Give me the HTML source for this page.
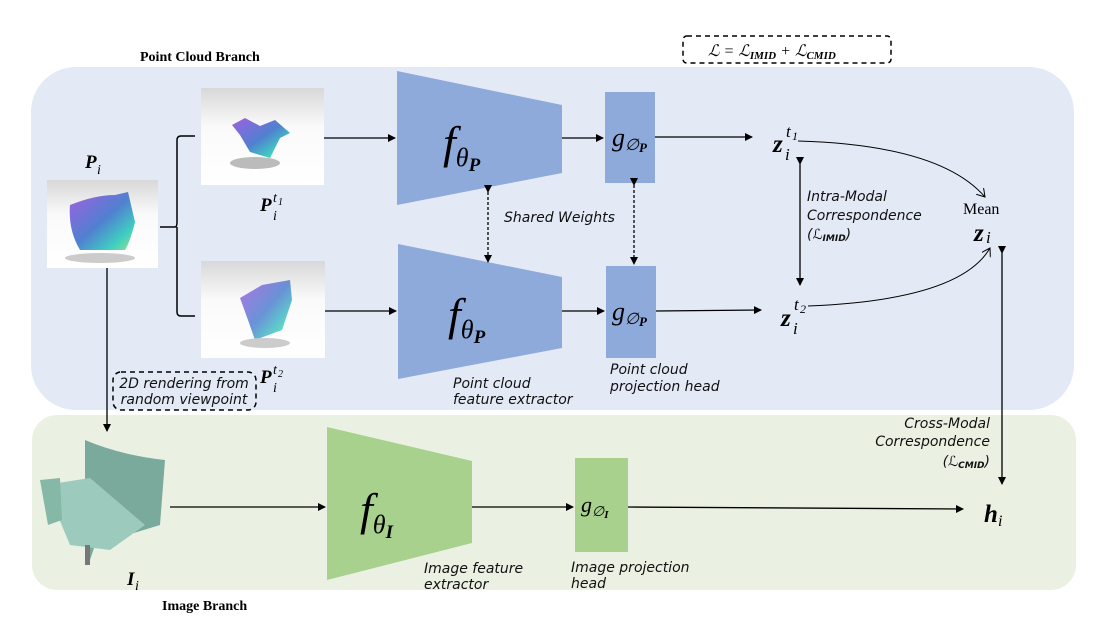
<!DOCTYPE html>
<html><head><meta charset="utf-8"><style>
html,body{margin:0;padding:0;background:#fff;}
svg{display:block}
.it{font-family:"DejaVu Sans","Liberation Sans",sans-serif;font-style:italic;font-size:14px;fill:#111}
.ser{font-family:"Liberation Serif",serif;}
.m{font-family:"Liberation Serif",serif;font-style:italic;fill:#000}
</style></head><body>
<svg width="1103" height="625" viewBox="0 0 1103 625" xmlns="http://www.w3.org/2000/svg">
<defs>
<marker id="a" markerWidth="8" markerHeight="8" refX="7" refY="4" orient="auto" markerUnits="userSpaceOnUse"><path d="M0,0 L8,4 L0,8 Z" fill="#000"/></marker>
<marker id="o" markerWidth="10" markerHeight="10" refX="8" refY="5" orient="auto" markerUnits="userSpaceOnUse"><path d="M0,0 L8,5 L0,10" fill="none" stroke="#000" stroke-width="1"/></marker>
<linearGradient id="bg" x1="0" y1="0" x2="0" y2="1"><stop offset="0" stop-color="#d8d8d8"/><stop offset="0.4" stop-color="#fafafa"/><stop offset="1" stop-color="#fff"/></linearGradient>
<linearGradient id="pc" x1="0" y1="0" x2="1" y2="1"><stop offset="0" stop-color="#a060e0"/><stop offset="0.5" stop-color="#5080d0"/><stop offset="0.8" stop-color="#40d0c0"/><stop offset="1" stop-color="#a0e080"/></linearGradient>
</defs>
<rect x="31" y="67" width="1043" height="343" rx="45" fill="#e3e9f5"/>
<rect x="32" y="415" width="1044" height="175" rx="25" fill="#ebf1e2"/>
<text x="140" y="61" class="ser" font-weight="bold" font-size="14">Point Cloud Branch</text>
<text x="162" y="610" class="ser" font-weight="bold" font-size="14">Image Branch</text>
<rect x="683" y="36" width="208" height="27" rx="4" fill="none" stroke="#000" stroke-width="1.5" stroke-dasharray="5,4"/>
<text x="708" y="56" class="ser" font-style="italic" font-size="16">ℒ = ℒ<tspan font-size="11" font-weight="bold" dy="3">IMID</tspan><tspan dy="-3"> + ℒ</tspan><tspan font-size="11" font-weight="bold" dy="3">CMID</tspan></text>
<rect x="47" y="180" width="111" height="88" fill="url(#bg)"/>
<path d="M70,205 Q95,195 115,195 L128,192 L135,222 Q130,242 125,250 L80,250 Q68,230 70,205Z" fill="url(#pc)"/>
<ellipse cx="100" cy="258" rx="35" ry="5" fill="#ccc"/>
<rect x="201" y="88" width="123" height="97" fill="url(#bg)"/>
<path d="M232,125 L245,118 L260,126 L275,120 L290,133 L280,138 L270,158 L250,152 L240,135 Z" fill="url(#pc)"/>
<ellipse cx="255" cy="163" rx="25" ry="6" fill="#bbb"/>
<rect x="201" y="261" width="124" height="97" fill="url(#bg)"/>
<path d="M240,298 L262,285 L290,280 L292,300 L282,330 L255,340 L248,320 Z" fill="url(#pc)" opacity="0.85"/>
<ellipse cx="265" cy="343" rx="25" ry="5" fill="#ccc"/>
<path d="M85,440 Q120,455 165,460 L160,525 L95,545 L90,560 L85,490 Z" fill="#7aaa9c"/>
<path d="M45,485 L90,478 L145,525 L110,550 L70,545 Z" fill="#9ccbbd"/>
<path d="M40,480 L60,478 L62,520 L48,525 Z" fill="#86b8a8"/>
<rect x="85" y="545" width="5" height="20" fill="#777"/>
<text x="85" y="168" class="m" font-weight="bold" font-size="19">P</text><text x="97" y="174" class="m" font-size="14">i</text>
<text x="260" y="211" class="m" font-weight="bold" font-size="19">P</text><text x="273" y="220" class="m" font-size="14">i</text><text x="273" y="202" class="m" font-size="14">t</text><text x="278" y="205" class="m" font-size="10">1</text>
<text x="260" y="383" class="m" font-weight="bold" font-size="19">P</text><text x="273" y="392" class="m" font-size="14">i</text><text x="273" y="374" class="m" font-size="14">t</text><text x="278" y="377" class="m" font-size="10">2</text>
<text x="127" y="585" class="m" font-weight="bold" font-size="19">I</text><text x="135" y="590" class="m" font-size="14">i</text>
<text x="773" y="152" class="m" font-weight="bold" font-size="25">z</text><text x="785" y="160" class="m" font-size="17">i</text><text x="786" y="137" class="m" font-size="17">t</text><text x="792" y="140" class="m" font-size="12">1</text>
<text x="781" y="326" class="m" font-weight="bold" font-size="25">z</text><text x="793" y="334" class="m" font-size="17">i</text><text x="794" y="310" class="m" font-size="17">t</text><text x="800" y="313" class="m" font-size="12">2</text>
<text x="963" y="214" class="ser" font-size="16">Mean</text>
<text x="974" y="241" class="m" font-weight="bold" font-size="25">z</text><text x="986" y="243" class="m" font-size="17">i</text>
<text x="984" y="522" class="m" font-weight="bold" font-size="25">h</text><text x="998" y="526" class="m" font-size="16">i</text>
<path d="M160,227 L175,227 Q177,227 177,222 L177,140 Q177,136 181,136 L195,136 M177,227 L177,312 Q177,316 181,316 L195,316" fill="none" stroke="#000" stroke-width="1.5"/>
<polygon points="397,71 562,105 562,173 397,205" fill="#8eaadb"/>
<polygon points="398,244 562,277 562,348 398,379" fill="#8eaadb"/>
<polygon points="327,427 472,461 472,543 327,580" fill="#a9d18e"/>
<text x="443" y="158" class="ser" font-style="italic" font-size="46">f<tspan font-size="26" dy="8">θ</tspan><tspan font-size="19" font-weight="bold" dy="5">P</tspan></text>
<text x="448" y="330" class="ser" font-style="italic" font-size="46">f<tspan font-size="26" dy="8">θ</tspan><tspan font-size="19" font-weight="bold" dy="5">P</tspan></text>
<text x="360" y="525" class="ser" font-style="italic" font-size="46">f<tspan font-size="26" dy="8">θ</tspan><tspan font-size="19" font-weight="bold" dy="5">I</tspan></text>
<rect x="605" y="92" width="50" height="91" fill="#8eaadb"/>
<rect x="606" y="266" width="50" height="92" fill="#8eaadb"/>
<rect x="575" y="458" width="53" height="94" fill="#a9d18e"/>
<text x="612" y="146" class="ser" font-style="italic" font-size="26">g<tspan font-size="16" dy="4">∅</tspan><tspan font-size="13" font-weight="bold" dy="2">P</tspan></text>
<text x="612" y="320" class="ser" font-style="italic" font-size="26">g<tspan font-size="16" dy="4">∅</tspan><tspan font-size="13" font-weight="bold" dy="2">P</tspan></text>
<text x="581" y="512" class="ser" font-style="italic" font-size="22">g<tspan font-size="14" dy="4">∅</tspan><tspan font-size="11" font-weight="bold" dy="2">I</tspan></text>
<g stroke="#000" stroke-width="1.3" fill="none">
<line x1="324" y1="138" x2="395" y2="138" marker-end="url(#a)"/>
<line x1="325" y1="311" x2="396" y2="311" marker-end="url(#a)"/>
<line x1="562" y1="138" x2="603" y2="138" marker-end="url(#a)"/>
<line x1="562" y1="311" x2="604" y2="311" marker-end="url(#a)"/>
<line x1="655" y1="137" x2="752" y2="137" marker-end="url(#a)"/>
<line x1="656" y1="311" x2="761" y2="310" marker-end="url(#a)"/>
<line x1="170" y1="507" x2="325" y2="507" marker-end="url(#a)"/>
<line x1="472" y1="507" x2="573" y2="507" marker-end="url(#a)"/>
<line x1="628" y1="507" x2="963" y2="509" marker-end="url(#a)"/>
<line x1="107" y1="268" x2="107" y2="431" marker-end="url(#a)"/>
<line x1="488" y1="192" x2="488" y2="262" stroke-dasharray="3,2" marker-start="url(#a)" marker-end="url(#a)"/>
<line x1="634" y1="185" x2="634" y2="264" stroke-dasharray="3,2" marker-start="url(#a)" marker-end="url(#a)"/>
<line x1="800" y1="164" x2="800" y2="285" marker-start="url(#a)" marker-end="url(#a)"/>
<line x1="1002" y1="253" x2="1002" y2="484" marker-start="url(#a)" marker-end="url(#a)"/>
<path d="M798,141 Q940,145 985,197" marker-end="url(#o)" stroke-width="1"/>
<path d="M808,306 Q960,300 990,248" marker-end="url(#o)" stroke-width="1"/>
</g>
<rect x="113" y="372" width="143" height="38" rx="8" fill="none" stroke="#000" stroke-width="1.5" stroke-dasharray="5,4"/>
<text x="184" y="388" class="it" font-size="13" text-anchor="middle">2D rendering from</text>
<text x="184" y="404" class="it" font-size="13" text-anchor="middle">random viewpoint</text>
<text x="504" y="222" class="it">Shared Weights</text>
<text x="807" y="201" class="it">Intra-Modal</text>
<text x="807" y="220" class="it">Correspondence</text>
<text x="807" y="239" class="it">(ℒ<tspan font-size="9" font-weight="bold" dy="2">IMID</tspan><tspan dy="-2">)</tspan></text>
<text x="990" y="428" class="it" text-anchor="end">Cross-Modal</text>
<text x="990" y="446" class="it" text-anchor="end">Correspondence</text>
<text x="990" y="466" class="it" text-anchor="end">(ℒ<tspan font-size="9" font-weight="bold" dy="2">CMID</tspan><tspan dy="-2">)</tspan></text>
<text x="453" y="388" class="it" font-size="13">Point cloud</text>
<text x="453" y="404" class="it" font-size="13">feature extractor</text>
<text x="610" y="374" class="it" font-size="13">Point cloud</text>
<text x="610" y="391" class="it" font-size="13">projection head</text>
<text x="424" y="573" class="it" font-size="13">Image feature</text>
<text x="424" y="589" class="it" font-size="13">extractor</text>
<text x="571" y="572" class="it" font-size="13">Image projection</text>
<text x="571" y="588" class="it" font-size="13">head</text>
</svg>
</body></html>
